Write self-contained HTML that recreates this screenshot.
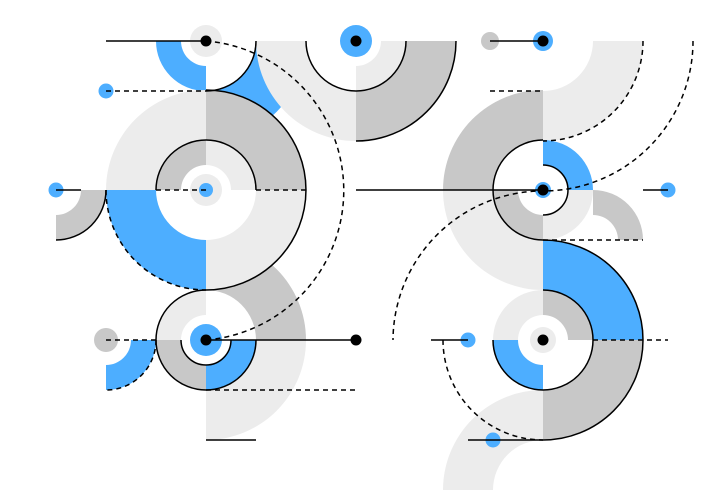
<!DOCTYPE html>
<html><head><meta charset="utf-8"><style>html,body{margin:0;padding:0;background:#fff}svg{display:block}</style></head>
<body>
<svg id="s" width="727" height="500" viewBox="0 0 727 500" xmlns="http://www.w3.org/2000/svg"></svg>
<script>
var L='#ececec',D='#c8c8c8',B='#4daeff',out=[];
function q(cx,cy,r1,r2,Q,c){var a,b,ci,co;
 if(Q=='TR'){a=[cx,cy-r2];b=[cx+r2,cy];ci=[cx+r1,cy];co=[cx,cy-r1];}
 if(Q=='BR'){a=[cx+r2,cy];b=[cx,cy+r2];ci=[cx,cy+r1];co=[cx+r1,cy];}
 if(Q=='BL'){a=[cx,cy+r2];b=[cx-r2,cy];ci=[cx-r1,cy];co=[cx,cy+r1];}
 if(Q=='TL'){a=[cx-r2,cy];b=[cx,cy-r2];ci=[cx,cy-r1];co=[cx-r1,cy];}
 var d='M'+a+' A'+r2+' '+r2+' 0 0 1 '+b+' L'+ci+(r1>0?' A'+r1+' '+r1+' 0 0 0 '+co:'')+' Z';
 out.push('<path d="'+d+'" fill="'+c+'"/>');}
function c(x,y,r,f){out.push('<circle cx="'+x+'" cy="'+y+'" r="'+r+'" fill="'+f+'"/>');}
function p(d,dash){out.push('<path d="'+d+'" fill="none" stroke="#000" stroke-width="1.5"'+(dash?' stroke-dasharray="5 4"':'')+'/>');}
q(206,41,50,100,'BR',B);q(206,41,25,50,'BL',B);
q(356,41,50,100,'BL',L);q(356,41,50,100,'BR',D);q(356,41,25,50,'BR',L);
q(206,340,50,100,'TR',D);q(206,340,50,100,'BR',L);
q(206,190,50,100,'TL',L);q(206,190,50,100,'TR',D);q(206,190,50,100,'BL',B);q(206,190,50,100,'BR',L);
q(206,190,25,50,'TL',D);q(206,190,25,50,'TR',L);
q(206,340,25,50,'TL',L);q(206,340,25,50,'BL',D);q(206,340,25,50,'BR',B);
q(56,190,25,50,'BR',D);q(106,340,25,50,'BR',B);
q(543,41,50,100,'BR',L);q(543,190,50,100,'TL',D);q(543,190,50,100,'BL',L);
q(543,190,25,50,'TR',B);q(543,190,25,50,'BR',L);q(543,190,25,50,'BL',D);q(593,240,25,50,'TR',D);
q(543,340,50,100,'TR',B);q(543,340,50,100,'BR',D);q(543,340,25,50,'TL',L);q(543,340,25,50,'TR',D);q(543,340,25,50,'BL',B);
q(543,490,50,100,'TL',L);
c(206,41,16,L);c(356,41,16,B);c(206,190,16,L);c(206,190,7,B);c(206,340,16,B);c(106,340,12,D);c(490,41,9,D);c(543,41,10,B);c(543,190,8,B);c(543,340,13,L);
[[106,91],[56,190],[668,190],[468,340],[493,440]].forEach(function(v){c(v[0],v[1],7.5,B);});
['M106,41H206','M356,190H543','M206,340H356','M206,440H256','M490,41H543','M56,190H81','M643,190H668','M431,340H468','M468,440H543'].forEach(function(d){p(d);});
['M106,91H206','M156,190H206','M256,190H306','M106,340H156','M206,390H356','M490,91H543','M543,240H643','M593,340H668'].forEach(function(d){p(d,1);});
p('M256,41 A50 50 0 0 1 206,91');p('M306,41 A50 50 0 0 0 406,41');p('M456,41 A100 100 0 0 1 356,141');
p('M206,90 A100 100 0 0 1 206,290');p('M156,190 A50 50 0 0 1 256,190');p('M106,190 A50 50 0 0 1 56,240');
p('M206,290 A50 50 0 1 0 256,340');p('M181,340 A25 25 0 0 0 231,340');
p('M543,140 A50 50 0 0 0 543,240');p('M543,165 A25 25 0 0 1 543,215');
p('M543,240 A100 100 0 0 1 543,440');p('M543,290 A50 50 0 1 1 493,340');
p('M206,41 A150 150 0 0 1 206,340',1);p('M106,190 A100 100 0 0 0 206,290',1);p('M156,340 A50 50 0 0 1 106,390',1);
p('M643,41 A100 100 0 0 1 543,141',1);p('M693,41 A150 150 0 0 1 543,191 A150 150 0 0 0 393,340',1);
p('M443,340 A100 100 0 0 0 543,440',1);
[[206,41],[356,41],[543,41],[543,190],[206,340],[356,340],[543,340]].forEach(function(v){c(v[0],v[1],5.5,'#000');});
document.getElementById('s').innerHTML=out.join('');
</script>
</body></html>
